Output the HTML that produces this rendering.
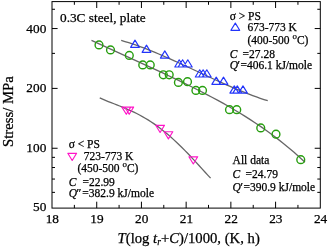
<!DOCTYPE html>
<html><head><meta charset="utf-8"><title>0.3C steel plate</title>
<style>
html,body{margin:0;padding:0;background:#fff;}
body{width:328px;height:248px;overflow:hidden;}
svg{display:block;}
text{font-family:"Liberation Serif","Times New Roman",serif;fill:#000;stroke:#000;stroke-width:0.25px;}
.t{font-size:13.3px;}
.l{font-size:11.5px;}
.a{font-size:14.7px;}
.i{font-style:italic;}
</style></head><body>
<svg width="328" height="248" viewBox="0 0 328 248">
<rect x="0" y="0" width="328" height="248" fill="#fff"/>
<g fill="none" stroke="#666" stroke-width="1.3" stroke-linecap="butt">
<path d="M91.50,40.40L96.97,42.89L102.45,45.38L107.92,47.86L113.40,50.35L118.87,52.84L124.35,55.32L129.82,57.81L135.29,60.31L140.77,62.81L146.24,65.32L151.72,67.84L157.19,70.37L162.67,72.91L168.14,75.48L173.62,78.07L179.09,80.69L184.56,83.34L190.04,86.02L195.51,88.75L200.99,91.52L206.46,94.35L211.94,97.23L217.41,100.18L222.88,103.19L228.36,106.29L233.83,109.47L239.31,112.74L244.78,116.11L250.26,119.59L255.73,123.18L261.21,126.90L266.68,130.75L272.15,134.74L277.63,138.89L283.10,143.20L288.58,147.68L294.05,152.35L299.53,157.21L305.00,162.27"/>
<path d="M121.20,40.43L124.96,41.53L128.72,42.70L132.47,43.93L136.23,45.22L139.99,46.57L143.75,47.96L147.50,49.41L151.26,50.90L155.02,52.43L158.78,53.99L162.53,55.59L166.29,57.23L170.05,58.89L173.81,60.57L177.57,62.28L181.32,64.00L185.08,65.74L188.84,67.49L192.60,69.24L196.35,71.00L200.11,72.76L203.87,74.52L207.63,76.27L211.38,78.01L215.14,79.74L218.90,81.46L222.66,83.15L226.42,84.82L230.17,86.46L233.93,88.08L237.69,89.66L241.45,91.21L245.20,92.71L248.96,94.17L252.72,95.59L256.48,96.96L260.23,98.27L263.99,99.52L267.75,100.72"/>
<path d="M99.75,97.97L102.59,99.21L105.43,100.39L108.28,101.54L111.12,102.66L113.96,103.76L116.80,104.87L119.65,105.99L122.49,107.14L125.33,108.31L128.17,109.53L131.02,110.80L133.86,112.14L136.70,113.53L139.54,115.01L142.38,116.56L145.23,118.19L148.07,119.91L150.91,121.72L153.75,123.63L156.60,125.63L159.44,127.72L162.28,129.91L165.12,132.20L167.97,134.58L170.81,137.05L173.65,139.61L176.49,142.25L179.33,144.97L182.18,147.77L185.02,150.64L187.86,153.57L190.70,156.56L193.55,159.59L196.39,162.66L199.23,165.75L202.07,168.86L204.92,171.97L207.76,175.08L210.60,178.17"/>
</g>
<rect x="52.0" y="1.6" width="268.30" height="206.50" fill="none" stroke="#000" stroke-width="1"/>
<path d="M74.36,208.1v-3.2M74.36,1.6v3.2M96.72,208.1v-6.4M96.72,1.6v6.4M119.08,208.1v-3.2M119.08,1.6v3.2M141.43,208.1v-6.4M141.43,1.6v6.4M163.79,208.1v-3.2M163.79,1.6v3.2M186.15,208.1v-6.4M186.15,1.6v6.4M208.51,208.1v-3.2M208.51,1.6v3.2M230.87,208.1v-6.4M230.87,1.6v6.4M253.23,208.1v-3.2M253.23,1.6v3.2M275.58,208.1v-6.4M275.58,1.6v6.4M297.94,208.1v-3.2M297.94,1.6v3.2M52.0,192.36h3M320.3,192.36h-3M52.0,179.05h3M320.3,179.05h-3M52.0,167.52h3M320.3,167.52h-3M52.0,157.35h3M320.3,157.35h-3M52.0,148.25h5.6M320.3,148.25h-5.6M52.0,88.40h5.6M320.3,88.40h-5.6M52.0,53.39h3M320.3,53.39h-3M52.0,28.55h5.6M320.3,28.55h-5.6M52.0,9.28h3M320.3,9.28h-3" stroke="#000" stroke-width="1" fill="none"/>
<text class="t" x="52.30" y="222.9" text-anchor="middle">18</text>
<text class="t" x="97.02" y="222.9" text-anchor="middle">19</text>
<text class="t" x="141.73" y="222.9" text-anchor="middle">20</text>
<text class="t" x="186.45" y="222.9" text-anchor="middle">21</text>
<text class="t" x="231.17" y="222.9" text-anchor="middle">22</text>
<text class="t" x="275.88" y="222.9" text-anchor="middle">23</text>
<text class="t" x="320.60" y="222.9" text-anchor="middle">24</text>
<text class="t" x="46.3" y="211.10" text-anchor="end">50</text>
<text class="t" x="46.3" y="152.25" text-anchor="end">100</text>
<text class="t" x="46.3" y="92.40" text-anchor="end">200</text>
<text class="t" x="46.3" y="32.55" text-anchor="end">400</text>
<g fill="none" stroke="#269e0e" stroke-width="1.4">
<circle cx="99" cy="44.90" r="3.9"/>
<circle cx="110.5" cy="49.90" r="3.9"/>
<circle cx="129.3" cy="55.40" r="3.9"/>
<circle cx="142.75" cy="64.90" r="3.9"/>
<circle cx="150.25" cy="64.90" r="3.9"/>
<circle cx="163.3" cy="74.80" r="3.9"/>
<circle cx="169.2" cy="74.80" r="3.9"/>
<circle cx="178.4" cy="82.40" r="3.9"/>
<circle cx="187.5" cy="81.70" r="3.9"/>
<circle cx="195.9" cy="90.40" r="3.9"/>
<circle cx="202.5" cy="90.40" r="3.9"/>
<circle cx="229.5" cy="109.65" r="3.9"/>
<circle cx="236.75" cy="109.65" r="3.9"/>
<circle cx="260.75" cy="127.90" r="3.9"/>
<circle cx="276" cy="134.15" r="3.9"/>
<circle cx="300.75" cy="159.65" r="3.9"/>
</g>
<path fill="none" stroke="#2234fa" stroke-width="1.15" stroke-linejoin="round" d="M130.60,47.35L135.00,40.15L139.40,47.35ZM142.10,52.35L146.50,45.15L150.90,52.35ZM160.40,58.10L164.80,50.90L169.20,58.10ZM174.80,67.00L179.20,59.80L183.60,67.00ZM178.20,67.00L182.60,59.80L187.00,67.00ZM183.40,67.00L187.80,59.80L192.20,67.00ZM195.30,76.95L199.70,69.75L204.10,76.95ZM198.70,76.95L203.10,69.75L207.50,76.95ZM202.40,76.95L206.80,69.75L211.20,76.95ZM211.85,84.35L216.25,77.15L220.65,84.35ZM219.10,84.35L223.50,77.15L227.90,84.35ZM229.90,93.10L234.30,85.90L238.70,93.10ZM232.90,93.10L237.30,85.90L241.70,93.10ZM238.60,93.10L243.00,85.90L247.40,93.10ZM230.90,30.30L235.30,23.10L239.70,30.30Z"/>
<path fill="none" stroke="#ff14c8" stroke-width="1.15" stroke-linejoin="round" d="M121.90,107.10L126.30,114.30L130.70,107.10ZM124.80,107.10L129.20,114.30L133.60,107.10ZM155.70,125.30L160.10,132.50L164.50,125.30ZM164.00,131.70L168.40,138.90L172.80,131.70ZM188.90,156.80L193.30,164.00L197.70,156.80ZM67.80,153.30L72.20,160.50L76.60,153.30Z"/>
<text class="t" x="60" y="22.3">0.3C steel, plate</text>
<text class="l" x="229.7" y="19.9">σ &gt; PS</text>
<text class="l" x="247.4" y="31">673-773 K</text>
<text class="l" x="247.4" y="43.6">(400-500 <tspan font-size="9" dy="-4.6">o</tspan><tspan dy="4.6">C)</tspan></text>
<text class="l" y="57.5"><tspan class="i" x="229.7">C</tspan><tspan x="242.6">=27.28</tspan></text>
<text class="l" y="68.6"><tspan class="i" x="229.7">Q</tspan><tspan x="237.6">′</tspan><tspan x="240.4">=406.1 kJ/mole</tspan></text>
<text class="l" x="68.7" y="147.6">σ &lt; PS</text>
<text class="l" x="83.8" y="160.3">723-773 K</text>
<text class="l" x="77.4" y="171.6">(450-500 <tspan font-size="9" dy="-4.6">o</tspan><tspan dy="4.6">C)</tspan></text>
<text class="l" y="185.6"><tspan class="i" x="68.7">C</tspan><tspan x="82.5">=22.99</tspan></text>
<text class="l" y="197.0"><tspan class="i" x="68.7">Q</tspan><tspan x="76.6">″</tspan><tspan x="82.3" textLength="71.8">=382.9 kJ/mole</tspan></text>
<text class="l" x="232.6" y="164.3">All data</text>
<text class="l" y="178.2"><tspan class="i" x="232.6">C</tspan><tspan x="245.6">=24.79</tspan></text>
<text class="l" y="191.1"><tspan class="i" x="232.6">Q</tspan><tspan x="240.5">′</tspan><tspan x="243.5">=390.9 kJ/mole</tspan></text>
<text class="a" x="117.6" y="242.5"><tspan class="i">T</tspan>(log <tspan class="i">t</tspan><tspan class="i" font-size="9.5" dy="2.5">r</tspan><tspan dy="-2.5">+</tspan><tspan class="i">C</tspan>)/1000, (K, h)</text>
<text class="a" transform="translate(12.9,146.9) rotate(-90)">Stress/ MPa</text>
</svg></body></html>
